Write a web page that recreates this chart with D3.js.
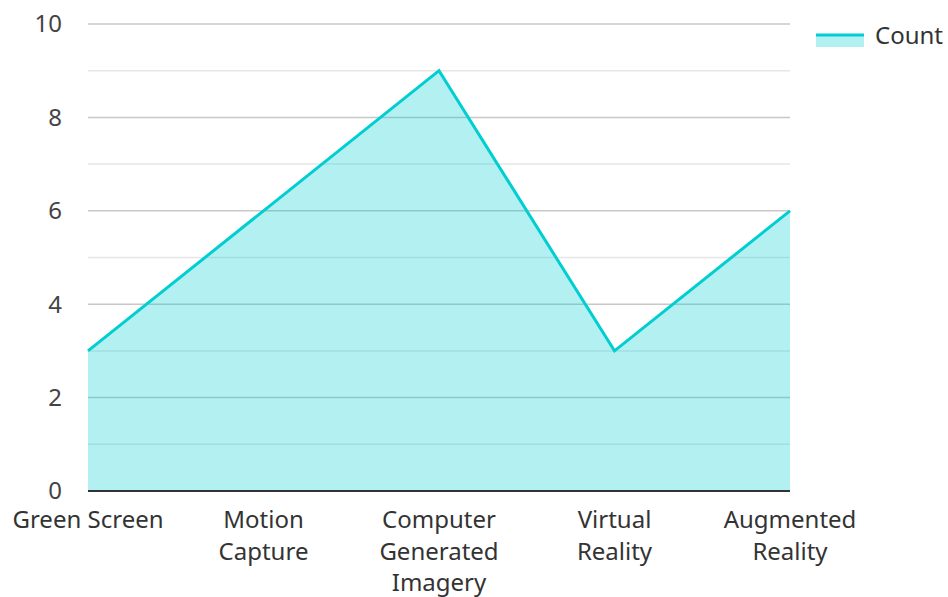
<!DOCTYPE html>
<html>
<head>
<meta charset="utf-8">
<script src="https://cdn.jsdelivr.net/npm/d3@7"></script>
<style>
  body { margin: 0; background: #fff; }
  svg text { font-family: "Noto Sans", sans-serif; }
</style>
</head>
<body>
<svg id="chart" width="948" height="597"></svg>
<script>
const categories = ["Green Screen", "Motion Capture", "Computer Generated Imagery", "Virtual Reality", "Augmented Reality"];
const categoryLines = [["Green Screen"], ["Motion", "Capture"], ["Computer", "Generated", "Imagery"], ["Virtual", "Reality"], ["Augmented", "Reality"]];
const counts = [3, 6, 9, 3, 6];
const yTicks = [0, 2, 4, 6, 8, 10];
const seriesName = "Count";

const width = 948, height = 597;
const margin = { left: 88, right: 158, top: 24, bottom: 106 };
const lineColor = "#00ced1";

const svg = d3.select("#chart");

const x = d3.scalePoint()
    .domain(categories)
    .range([margin.left, width - margin.right]);

const y = d3.scaleLinear()
    .domain([0, 10])
    .range([height - margin.bottom, margin.top]);

// grid lines (minor ones at odd values)
const grid = svg.append("g");
d3.range(1, 11).forEach(v => {
    grid.append("line")
        .attr("x1", margin.left).attr("x2", width - margin.right)
        .attr("y1", y(v)).attr("y2", y(v))
        .attr("stroke", v % 2 === 0 ? "#c8c8c8" : "#e6e6e6")
        .attr("stroke-width", 1.5);
});

// area + line
const area = d3.area()
    .x((d, i) => x(categories[i]))
    .y0(y(0))
    .y1(d => y(d));

const line = d3.line()
    .x((d, i) => x(categories[i]))
    .y(d => y(d));

svg.append("path")
    .datum(counts)
    .attr("d", area)
    .attr("fill", lineColor)
    .attr("fill-opacity", 0.3);

svg.append("path")
    .datum(counts)
    .attr("d", line)
    .attr("fill", "none")
    .attr("stroke", lineColor)
    .attr("stroke-width", 3)
    .attr("stroke-linejoin", "miter");

// x axis baseline
svg.append("line")
    .attr("x1", margin.left).attr("x2", width - margin.right)
    .attr("y1", y(0)).attr("y2", y(0))
    .attr("stroke", "#333")
    .attr("stroke-width", 2);

// y tick labels
svg.append("g").selectAll("text")
    .data(yTicks)
    .join("text")
    .attr("x", 62)
    .attr("y", d => y(d))
    .attr("dy", "0.35em")
    .attr("text-anchor", "end")
    .attr("font-size", 24)
    .attr("fill", "#444")
    .text(d => d);

// x labels
const xl = svg.append("g").selectAll("text")
    .data(categories)
    .join("text")
    .attr("x", d => x(d))
    .attr("y", y(0) + 37)
    .attr("text-anchor", "middle")
    .attr("font-size", 24)
    .attr("fill", "#333");
xl.each(function(d, i) {
    d3.select(this).selectAll("tspan")
        .data(categoryLines[i])
        .join("tspan")
        .attr("x", x(d))
        .attr("dy", (t, j) => j === 0 ? 0 : 31.5)
        .text(t => t);
});

// legend
const lg = svg.append("g").attr("transform", "translate(816,35)");
lg.append("rect")
    .attr("x", 0).attr("y", 0)
    .attr("width", 48).attr("height", 12)
    .attr("fill", lineColor).attr("fill-opacity", 0.3);
lg.append("line")
    .attr("x1", 0).attr("x2", 48)
    .attr("y1", 0).attr("y2", 0)
    .attr("stroke", lineColor).attr("stroke-width", 3);
lg.append("text")
    .attr("x", 59).attr("y", 1)
    .attr("dy", "0.35em")
    .attr("font-size", 24)
    .attr("fill", "#333")
    .text(seriesName);
</script>
</body>
</html>
